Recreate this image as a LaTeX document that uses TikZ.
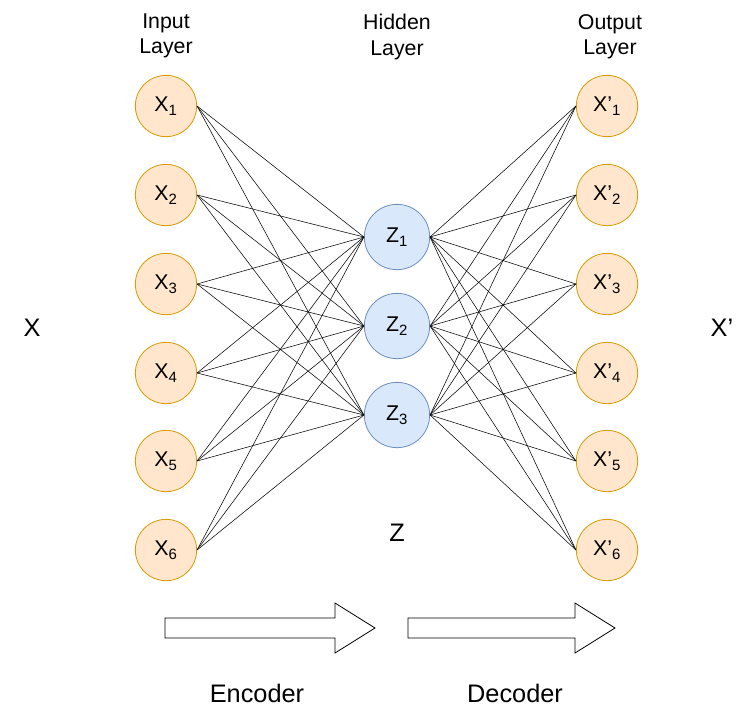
\documentclass[tikz,border=0pt]{standalone}
\usepackage{fontspec}
\setmainfont{Liberation Sans}
\definecolor{ofill}{HTML}{FFE6CC}
\definecolor{odraw}{HTML}{D79B00}
\definecolor{bfill}{HTML}{DAE8FC}
\definecolor{bdraw}{HTML}{6C8EBF}
\newcommand{\qq}{\char"0027\relax}
\begin{document}
\begin{tikzpicture}[x=0.75pt,y=-0.75pt,
  inp/.style={circle,draw=odraw,fill=ofill,line width=0.6pt,minimum size=46pt,inner sep=0pt,font=\fontsize{16}{18}\selectfont},
  hid/.style={circle,draw=bdraw,fill=bfill,line width=0.6pt,minimum size=49pt,inner sep=0pt,font=\fontsize{16}{18}\selectfont},
  lbl/.style={font=\fontsize{16}{19}\selectfont,align=center},
  big/.style={font=\fontsize{19}{21}\selectfont},
  con/.style={line width=0.4pt},
  blk/.style={draw,line width=0.6pt,fill=white}]
\useasboundingbox (0,0) rectangle (752,708);
\foreach \i/\y in {1/106,2/195,3/284,4/373,5/461,6/550}{
  \node[inp] (x\i) at (166,\y) {X\textsubscript{\i}};
  \node[inp] (o\i) at (607,\y) {X\qq\textsubscript{\i}};
}
\foreach \j/\y in {1/237,2/326,3/415}{
  \node[hid] (z\j) at (397,\y) {Z\textsubscript{\j}};
}
\foreach \i in {1,...,6}{\foreach \j in {1,2,3}{
  \draw[con] (x\i.east) -- (z\j.west);
  \draw[con] (z\j.east) -- (o\i.west);
}}
\node[lbl] (li) at (166,36) {Input\\Layer};
\node[lbl] (lh) at (397,37) {Hidden\\Layer};
\node[lbl] (lo) at (610,37) {Output\\Layer};
\node[big] (X) at (32,328) {X};
\node[big] (Xp) at (722,328) {X\qq};
\node[big] (Z) at (397,533) {Z};
\node[big] (enc) at (257,693) {Encoder};
\node[big] (dec) at (515,693) {Decoder};
\draw[blk] (165,618) -- (335,618) -- (335,603) -- (375,628) -- (335,653) -- (335,638) -- (165,638) -- cycle;
\draw[blk] (408,618) -- (575,618) -- (575,603) -- (615,628) -- (575,653) -- (575,638) -- (408,638) -- cycle;
\end{tikzpicture}
\end{document}
